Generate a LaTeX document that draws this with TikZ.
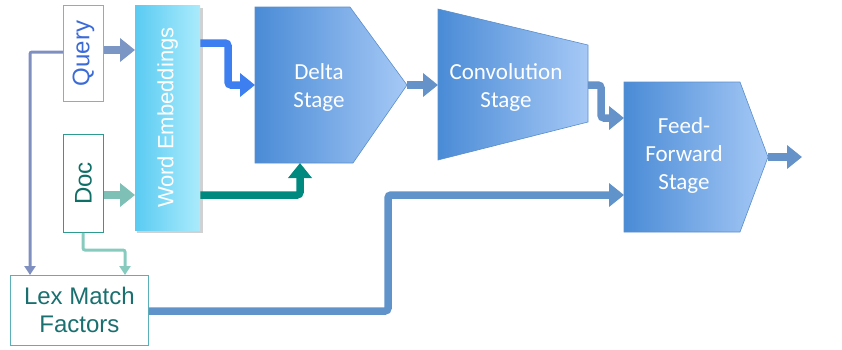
\documentclass[tikz,border=0pt]{standalone}
\usepackage{fontspec}
\setmainfont{Liberation Sans}
\newfontfamily\stagefont{Carlito}
\usetikzlibrary{arrows.meta}
\definecolor{qtext}{HTML}{3A6BD8}
\definecolor{qborder}{HTML}{8FA8D0}
\definecolor{dtext}{HTML}{0F6F66}
\definecolor{dborder}{HTML}{2C9C90}
\definecolor{ltext}{HTML}{1A7070}
\definecolor{lborder}{HTML}{5BAFB8}
\definecolor{weleft}{HTML}{5ACBF2}
\definecolor{weright}{HTML}{ABEBFC}
\definecolor{stleft}{HTML}{4A8BD6}
\definecolor{stright}{HTML}{A6C9F6}
\definecolor{stborder}{HTML}{5A8ECB}
\definecolor{qarrow}{HTML}{7B96C4}
\definecolor{darrow}{HTML}{7EC0B6}
\definecolor{qthin}{HTML}{7F8FC0}
\definecolor{dthin}{HTML}{86CBBE}
\definecolor{bluearrow}{HTML}{3D7EF0}
\definecolor{tealarrow}{HTML}{00897E}
\definecolor{stagearrow}{HTML}{6592C8}
\definecolor{lexarrow}{HTML}{6193CB}
\tikzset{
  inbox/.style={draw, line width=0.8pt, fill=white, inner sep=0pt},
  stagebody/.style={draw=stborder, line width=0.6pt, left color=stleft, right color=stright},
  stagetext/.style={text=white, font=\stagefont\fontsize{23}{28}\selectfont, align=center},
  fatarrow/.style={line width=7.5pt, rounded corners=3pt, -{Triangle[length=15pt,width=23pt]}},
  thinarrow/.style={line width=3pt, rounded corners=2pt, -{Triangle[length=9pt,width=11pt]}},
  plainline/.style={line width=7.5pt, rounded corners=3pt}
}
\begin{document}
\begin{tikzpicture}[x=1pt,y=-1pt]
\useasboundingbox (0,0) rectangle (842,349);

% input boxes
\node[inbox, draw=qborder, minimum width=40pt, minimum height=96pt, anchor=north west] (query) at (63,5) {};
\node[text=qtext, rotate=90, font=\fontsize{24}{28}\selectfont] (querytext) at (query.center) {Query};
\node[inbox, draw=dborder, minimum width=40pt, minimum height=98pt, anchor=north west] (doc) at (63,134) {};
\node[text=dtext, rotate=90, font=\fontsize{24}{28}\selectfont] (doctext) at (doc.center) {Doc};
\node[inbox, draw=lborder, minimum width=138pt, minimum height=70pt, anchor=north west, text=ltext, align=center, font=\fontsize{24}{28}\selectfont] (lex) at (10,275) {Lex Match\\Factors};

% word embeddings
\path[fill=black!18] (137,8) rectangle (203,233);
\node[minimum width=65pt, minimum height=225pt, anchor=north west, left color=weleft, right color=weright, inner sep=0pt] (we) at (135,5) {};
\node[text=white, rotate=90, font=\fontsize{22}{26}\selectfont] (wetext) at (we.center) {Word Embeddings};

% delta stage
\path[stagebody] (255,7) -- (350,7) -- (407,85) -- (353,163) -- (255,163) -- cycle;
\node[stagetext] (delta) at (319,87) {Delta\\Stage};
\coordinate (deltain) at (255,85);
\coordinate (deltabot) at (300,163);
\coordinate (deltaout) at (407,85);

% convolution stage
\path[stagebody] (438,9) -- (588,45) -- (588,122) -- (438,160) -- cycle;
\node[stagetext] (conv) at (506,87) {Convolution\\Stage};
\coordinate (convin) at (438,85);
\coordinate (convout) at (588,85);

% feed-forward stage
\path[stagebody] (624,82) -- (740,82) -- (768,157) -- (740,232) -- (624,232) -- cycle;
\node[stagetext] (ff) at (684,155) {Feed-\\Forward\\Stage};
\coordinate (ffin1) at (624,118);
\coordinate (ffin2) at (624,195);
\coordinate (ffout) at (768,157);
\coordinate (final) at (802,157);

% connectors
\draw[fatarrow, qarrow] (query.east |- 0,50) -- (we.west |- 0,50);
\draw[fatarrow, darrow] (doc.east |- 0,195) -- (we.west |- 0,195);
\draw[thinarrow, qthin] (query.west |- 0,52) -- (30,52) -- (30,275);
\draw[thinarrow, dthin] (doc.south -| 83,0) -- (83,250) -- (125,250) -- (125,275);
\draw[fatarrow, bluearrow] (we.east |- 0,43) -- (228,43) -- (228,85) -- (deltain);
\draw[fatarrow, tealarrow] (we.east |- 0,195) -- (300,195) -- (deltabot);
\draw[fatarrow, stagearrow] (deltaout) -- (convin);
\draw[fatarrow, stagearrow] (convout) -- (601,85) -- (601,118) -- (ffin1);
\draw[fatarrow, stagearrow] (ffout) -- (final);
\draw[fatarrow, lexarrow] (lex.east |- 0,311) -- (388,311) -- (388,195) -- (ffin2);
\end{tikzpicture}
\end{document}
